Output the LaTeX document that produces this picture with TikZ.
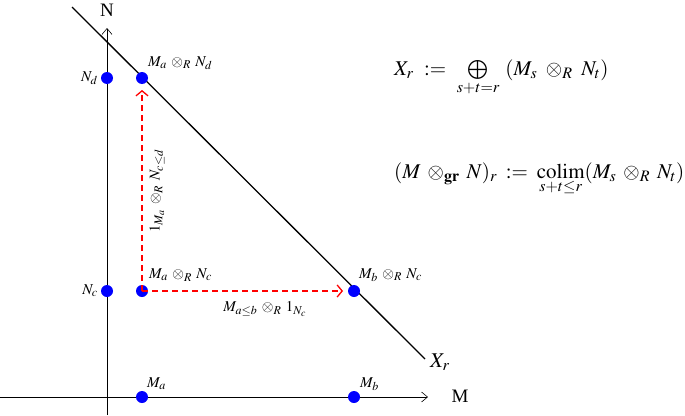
\documentclass[tikz,border=0pt]{standalone}
\usepackage{mathptmx}
\usepackage{fontspec}
\setmainfont{Liberation Serif}
\usetikzlibrary{arrows.meta}
\DeclareMathSizes{15}{15}{12}{10}
\DeclareMathSizes{21}{21}{16}{12}
\newcommand{\gp}{\mskip 5mu}
\newcommand{\sgp}{\mskip 3.5mu}
\newcommand{\lgp}{\mskip 3mu}
\begin{document}
\begin{tikzpicture}[x=1pt,y=-1pt,
  dot/.style={circle,fill=blue,inner sep=0pt,minimum size=12pt},
  lbl/.style={inner sep=1pt,font=\fontsize{15}{18}\selectfont},
  axis/.style={draw=black,line width=0.6pt,-{Straight Barb[length=6pt,width=10pt]}},
  redarrow/.style={draw=red,line width=1.3pt,dash pattern=on 6pt off 4pt,-{Straight Barb[length=5pt,width=12pt]}},
  big/.style={inner sep=1pt,font=\fontsize{21}{25}\selectfont},
  axlbl/.style={inner sep=1pt,font=\fontsize{19}{22}\selectfont}]
\useasboundingbox (0,0) rectangle (685,415);
% axes
\coordinate (xs) at (0,397);
\coordinate (xe) at (428,397);
\coordinate (ys) at (107,415);
\coordinate (ye) at (107,28);
\draw[axis] (xs) -- (xe);
\draw[axis] (ys) -- (ye);
\node[axlbl] (Mlab) at (460,396) {M};
\node[axlbl] (Nlab) at (107,10) {N};
% diagonal
\coordinate (d1) at (72,7);
\coordinate (d2) at (425,359);
\draw[line width=1.3pt] (d1) -- (d2);
\node[big,anchor=west] (Xr) at (429,362) {$X_r$};
% dots
\node[dot] (Nd) at (107,78) {};
\node[dot] (Nc) at (107,291) {};
\node[dot] (Ma) at (142,397) {};
\node[dot] (Mb) at (354,397) {};
\node[dot] (MaNd) at (142,78) {};
\node[dot] (MaNc) at (142,291) {};
\node[dot] (MbNc) at (354,291) {};
% red arrows
\draw[redarrow] (MaNc.center) -- ([yshift=-12pt]MaNd.center);
\draw[redarrow] (MaNc.center) -- ([xshift=-11pt]MbNc.center);
% labels
\node[lbl,anchor=east] (lNd) at (99,78) {$N_d$};
\node[lbl,anchor=east] (lNc) at (99,291) {$N_c$};
\node[lbl,anchor=west] (lMa) at (146,384) {$M_a$};
\node[lbl,anchor=west] (lMb) at (359,384) {$M_b$};
\node[lbl,anchor=west] (lMaNd) at (147,63) {$M_a\lgp\otimes_R\lgp N_d$};
\node[lbl,anchor=west] (lMaNc) at (148,275) {$M_a\lgp\otimes_R\lgp N_c$};
\node[lbl,anchor=west] (lMbNc) at (358,275) {$M_b\lgp\otimes_R\lgp N_c$};
\node[lbl] (lh) at (265,309) {$M_{a\leq b}\lgp\otimes_R\lgp 1_{N_c}$};
\node[lbl,rotate=90] (lv) at (157,191) {$1_{M_a}\lgp\otimes_R\lgp N_{c\leq d}$};
% formulas
\node[big,anchor=base west] (f1) at (393,75) {$X_r\gp:=\gp\bigoplus\limits_{s+t=r}\gp(M_s\gp\otimes_R\gp N_t)$};
\node[big,anchor=base west] (f2) at (393,178) {$(M\sgp\otimes_{\mathbf{gr}}\sgp N)_r\sgp:=\sgp\mathop{\mathrm{colim}}\limits_{s+t\leq r}(M_s\sgp\otimes_R\sgp N_t)$};
\end{tikzpicture}
\end{document}
